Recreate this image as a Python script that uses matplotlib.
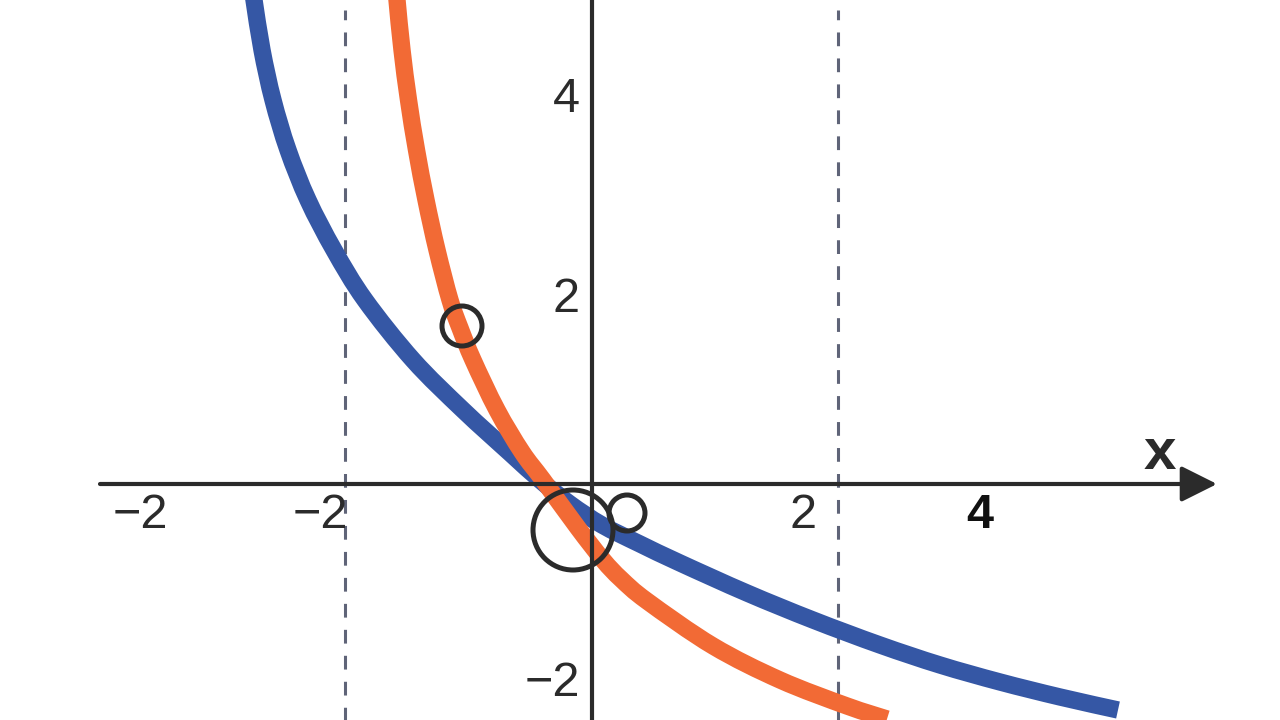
import matplotlib
matplotlib.use("Agg")
import matplotlib.pyplot as plt
from matplotlib.patches import Circle, PathPatch
from matplotlib.path import Path

# ---- data (in axis units) ----
blue_x = [-3.42, -3.38, -3.30, -3.19, -3.04, -2.84, -2.58, -2.27, -1.79,
          -1.29, -0.82, -0.52, -0.22, 0.10, 0.48, 0.88, 1.55, 2.21, 2.88,
          3.48, 4.08, 4.68, 5.26]
blue_y = [5.09, 4.84, 4.34, 3.84, 3.34, 2.84, 2.34, 1.84, 1.24,
          0.74, 0.31, 0.04, -0.20, -0.41, -0.60, -0.79, -1.09, -1.36, -1.61,
          -1.81, -1.98, -2.13, -2.26]

orange_x = [-1.97, -1.95, -1.90, -1.835, -1.755, -1.66, -1.55, -1.42, -1.32, -1.19,
            -0.95, -0.70, -0.49, -0.14, 0.11, 0.29, 0.55, 1.21, 1.88, 2.55,
            2.95]
orange_y = [5.09, 4.84, 4.34, 3.84, 3.34, 2.84, 2.34, 1.84, 1.56, 1.24,
            0.74, 0.32, 0.04, -0.44, -0.76, -0.95, -1.17, -1.62, -1.96, -2.22,
            -2.35]

asymptotes_x = [-2.47, 2.46]

circle_x = [-1.30, -0.19, 0.35]
circle_y = [1.58, -0.46, -0.29]
circle_r = [0.20, 0.40, 0.18]

ytick_labels = ["4", "2", "\u22122"]
ytick_pos = [3.84, 1.84, -1.99]
xtick_labels = ["\u22122", "\u22122", "2", "4"]
xtick_pos = [-4.52, -2.72, 2.11, 3.88]

# ---- styles ----
BLUE = "#3557a5"
ORANGE = "#f26a35"
AXIS = "#2b2b2b"
DASH = "#5f6478"

plt.rcParams["font.family"] = ["Liberation Sans", "DejaVu Sans"]


def smooth_path(xs, ys):
    """Bezier path passing through every read point (Catmull-Rom style)."""
    pts = list(zip(xs, ys))
    n = len(pts)
    verts = [pts[0]]
    codes = [Path.MOVETO]
    for i in range(n - 1):
        p0 = pts[i - 1] if i > 0 else pts[i]
        p1 = pts[i]
        p2 = pts[i + 1]
        p3 = pts[i + 2] if i + 2 < n else pts[i + 1]
        c1 = (p1[0] + (p2[0] - p0[0]) / 6, p1[1] + (p2[1] - p0[1]) / 6)
        c2 = (p2[0] - (p3[0] - p1[0]) / 6, p2[1] - (p3[1] - p1[1]) / 6)
        verts += [c1, c2, p2]
        codes += [Path.CURVE4] * 3
    return Path(verts, codes)


fig = plt.figure(figsize=(12.8, 7.2), dpi=100)
ax = fig.add_axes([0, 0, 1, 1])
ax.set_xlim(-5.92, 6.88)
ax.set_ylim(-2.36, 4.84)
ax.set_axis_off()

# asymptotes
for xv in asymptotes_x:
    ax.plot([xv, xv], [-2.5, 4.74], color=DASH, lw=2.2, dashes=(4.5, 4.0),
            zorder=1)

# curves
for xs, ys, col in ((blue_x, blue_y, BLUE), (orange_x, orange_y, ORANGE)):
    ax.add_patch(PathPatch(smooth_path(xs, ys), fill=False, ec=col, lw=12.5,
                           capstyle="butt", joinstyle="round", zorder=2))

# axes
ax.plot([0, 0], [-2.5, 5.0], color=AXIS, lw=3, zorder=3)
ax.annotate("", xy=(6.25, 0), xytext=(-4.92, 0),
            arrowprops=dict(arrowstyle="-|>", color=AXIS, lw=3,
                            mutation_scale=55, shrinkA=0, shrinkB=0),
            zorder=3)

# open circles
for cx, cy, r in zip(circle_x, circle_y, circle_r):
    ax.add_patch(Circle((cx, cy), r, fill=False, ec=AXIS, lw=3.6, zorder=4))

# tick labels
for v, lab in zip(ytick_pos, ytick_labels):
    ax.text(-0.12, v, lab, ha="right", va="center", fontsize=35, color=AXIS)
for i, (v, lab) in enumerate(zip(xtick_pos, xtick_labels)):
    ax.text(v, -0.31, lab, ha="center", va="center", fontsize=35,
            color="#111111" if i == 3 else AXIS,
            fontweight="bold" if i == 3 else "normal")

ax.text(5.68, 0.30, "x", ha="center", va="center", fontsize=42,
        fontweight="bold", color=AXIS)

fig.savefig("out.png", dpi=100, facecolor="white")
